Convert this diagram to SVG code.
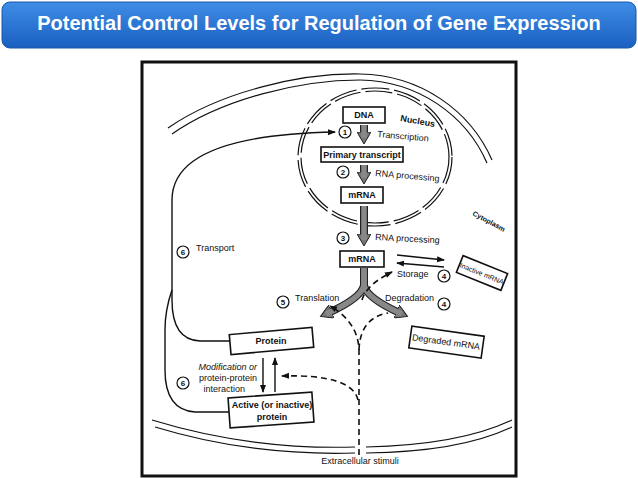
<svg xmlns="http://www.w3.org/2000/svg" width="638" height="478" viewBox="0 0 638 478">
<defs>
<linearGradient id="hb" x1="0" y1="0" x2="0" y2="1"><stop offset="0" stop-color="#3f8de6"/><stop offset="1" stop-color="#1a5fc0"/></linearGradient>
<marker id="ah" markerWidth="8" markerHeight="8" refX="7" refY="4" orient="auto" markerUnits="userSpaceOnUse"><path d="M0,1 L8,4 L0,7 Z" fill="#111"/></marker>
<marker id="ga" markerWidth="14" markerHeight="14" refX="6" refY="7" orient="auto" markerUnits="userSpaceOnUse"><path d="M0,0 L12,7 L0,14 Z" fill="#777" stroke="#222" stroke-width="1"/></marker>
</defs>
<style>
text{font-family:"Liberation Sans",Arial,sans-serif;fill:#111}
.bx{fill:#fff;stroke:#111;stroke-width:1.6}
.t{font-size:9px;font-weight:bold}
.l{font-size:9px}
.n{font-size:8px;font-weight:bold}
.c{fill:none;stroke:#111;stroke-width:1.2}
.ln{fill:none;stroke:#111;stroke-width:1.4}
.d{fill:none;stroke:#111;stroke-width:1.6;stroke-dasharray:6,4}
.g{fill:none;stroke:#222;stroke-width:8}
.gi{fill:none;stroke:#888;stroke-width:5.5}
</style>
<rect width="638" height="478" fill="#fff"/>
<g id="header">
<rect x="2" y="2" width="634" height="46" rx="8" fill="url(#hb)" stroke="#1a56aa"/>
<text x="319" y="30" text-anchor="middle" style="font-size:20px;font-weight:bold;fill:#fff">Potential Control Levels for Regulation of Gene Expression</text>
</g>
<rect x="142" y="62" width="374" height="414" fill="#fff" stroke="#111" stroke-width="3"/>
<g id="membranes">
<path d="M168,128 C220,92 300,73 360,74 C420,75 470,110 492,160" class="c"/>
<path d="M172,134 C222,99 300,80 360,80 C418,81 466,115 487,163" class="c"/>
<path d="M152,420 Q250,450 355,447" class="c"/>
<path d="M155,427 Q250,456 355,453" class="c"/>
<path d="M366,447 Q460,445 512,420" class="c"/>
<path d="M366,453 Q460,452 512,427" class="c"/>
<ellipse cx="375" cy="157" rx="77" ry="69" fill="none" stroke="#111" stroke-width="1.2" stroke-dasharray="28,5"/>
<ellipse cx="375" cy="157" rx="74" ry="66" fill="none" stroke="#111" stroke-width="1.2" stroke-dasharray="27,5"/>
</g>
<g id="connectors">
<path d="M364,125 V138" class="g" marker-end="url(#ga)"/><path d="M364,125 V138" class="gi"/>
<path d="M364,165 V178" class="g" marker-end="url(#ga)"/><path d="M364,165 V178" class="gi"/>
<path d="M364,206 V240" class="g" marker-end="url(#ga)"/><path d="M364,206 V240" class="gi"/>
<path d="M364,268 V285 Q362,298 326,314" class="g" marker-end="url(#ga)"/>
<path d="M364,268 V285 Q366,298 402,314" class="g" marker-end="url(#ga)"/>
<path d="M364,268 V285 Q362,298 326,314" class="gi"/>
<path d="M364,268 V285 Q366,298 402,314" class="gi"/>
<path d="M397,255 L444,260" class="ln" marker-end="url(#ah)"/>
<path d="M444,267 L397,263" class="ln" marker-end="url(#ah)"/>
<path d="M230,341 H200 Q172,340 172,300 V200 Q172,135 335,132" class="ln" marker-end="url(#ah)"/>
<path d="M229,412 H195 Q165,410 165,370 V330 Q165,310 172,290" class="ln"/>
<path d="M263,358 V392" class="ln" marker-end="url(#ah)"/>
<path d="M275,392 V358" class="ln" marker-end="url(#ah)"/>
<path d="M359,455 V350 Q358,322 330,306" class="d" marker-end="url(#ah)"/>
<path d="M359,350 Q360,318 388,313" class="d"/>
<path d="M362,300 Q366,285 392,272" class="d" marker-end="url(#ah)"/>
<path d="M358,400 Q352,374 282,376" class="d" marker-end="url(#ah)"/>
</g>
<g id="dna"><rect x="343" y="107" width="42" height="16" class="bx"/><text x="364" y="118" text-anchor="middle" class="t">DNA</text></g>
<g id="primary"><rect x="321" y="147" width="82" height="15" class="bx"/><text x="362" y="158" text-anchor="middle" class="t">Primary transcript</text></g>
<g id="mrna1"><rect x="341" y="187" width="42" height="16" class="bx"/><text x="362" y="198" text-anchor="middle" class="t">mRNA</text></g>
<g id="mrna2"><rect x="340" y="251" width="44" height="16" class="bx"/><text x="362" y="262" text-anchor="middle" class="t">mRNA</text></g>
<g id="inactive"><rect x="458" y="264" width="48" height="18" class="bx" transform="rotate(22 482 273)"/><text x="482" y="276" text-anchor="middle" style="font-size:7px" transform="rotate(22 482 273)">Inactive mRNA</text></g>
<g id="protein"><rect x="230" y="331" width="83" height="20" class="bx" transform="rotate(-5 271 341)"/><text x="271" y="344" text-anchor="middle" class="t">Protein</text></g>
<g id="degraded"><rect x="410" y="331" width="73" height="22" class="bx" transform="rotate(8 446 342)"/><text x="446" y="345" text-anchor="middle" class="l" transform="rotate(8 446 342)">Degraded mRNA</text></g>
<g id="active"><rect x="229" y="395" width="84" height="30" class="bx" transform="rotate(-4 271 410)"/><text x="272" y="408" text-anchor="middle" class="t">Active (or inactive)</text><text x="272" y="420" text-anchor="middle" class="t">protein</text></g>
<g id="labels">
<text x="400" y="121" class="t" transform="rotate(10 400 121)">Nucleus</text>
<text x="472" y="215" style="font-size:7px;font-weight:bold" transform="rotate(28 472 215)">Cytoplasm</text>
<circle cx="345" cy="132" r="6" class="c"/><text x="345" y="135" text-anchor="middle" class="n">1</text>
<text x="377" y="137" class="l" transform="rotate(5 377 137)">Transcription</text>
<circle cx="343" cy="172" r="6" class="c"/><text x="343" y="175" text-anchor="middle" class="n">2</text>
<text x="375" y="176" class="l" transform="rotate(5 375 176)">RNA processing</text>
<circle cx="343" cy="238" r="6" class="c"/><text x="343" y="241" text-anchor="middle" class="n">3</text>
<text x="375" y="240" class="l" transform="rotate(3 375 240)">RNA processing</text>
<text x="397" y="277" class="l">Storage</text>
<circle cx="444" cy="276" r="6" class="c"/><text x="444" y="279" text-anchor="middle" class="n">4</text>
<circle cx="283" cy="302" r="6" class="c"/><text x="283" y="305" text-anchor="middle" class="n">5</text>
<text x="295" y="301" class="l">Translation</text>
<text x="385" y="301" class="l">Degradation</text>
<circle cx="444" cy="304" r="6" class="c"/><text x="444" y="307" text-anchor="middle" class="n">4</text>
<circle cx="183" cy="252" r="6" class="c"/><text x="183" y="255" text-anchor="middle" class="n">6</text>
<text x="196" y="251" class="l">Transport</text>
<text x="257" y="370" text-anchor="end" class="l" font-style="italic">Modification or</text>
<text x="257" y="381" text-anchor="end" class="l">protein-protein</text>
<text x="245" y="392" text-anchor="end" class="l">interaction</text>
<circle cx="183" cy="383" r="6" class="c"/><text x="183" y="386" text-anchor="middle" class="n">6</text>
<text x="360" y="464" text-anchor="middle" class="l">Extracellular stimuli</text>
</g>
</svg>
